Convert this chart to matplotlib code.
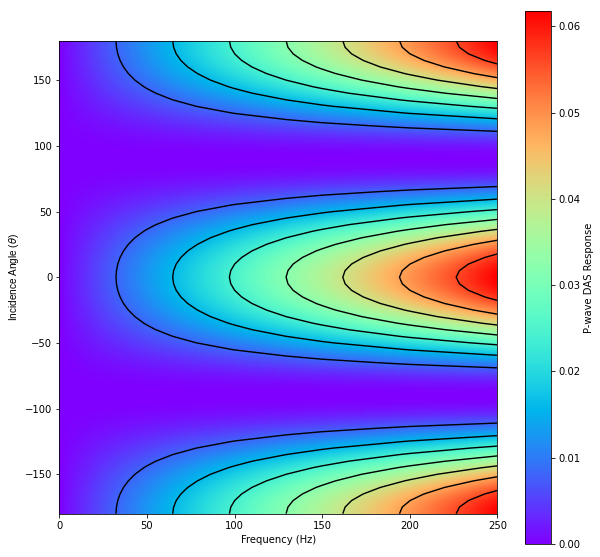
import numpy as np
import matplotlib
matplotlib.use("Agg")
import matplotlib.pyplot as plt

# incidence angle samples (deg) and normalised angular response
angle_deg = [-180, -175, -170, -165, -160, -155, -150, -145, -140, -135, -130, -125,
             -120, -115, -110, -105, -100, -95, -90, -85, -80, -75, -70, -65,
             -60, -55, -50, -45, -40, -35, -30, -25, -20, -15, -10, -5,
             0, 5, 10, 15, 20, 25, 30, 35, 40, 45, 50, 55,
             60, 65, 70, 75, 80, 85, 90, 95, 100, 105, 110, 115,
             120, 125, 130, 135, 140, 145, 150, 155, 160, 165, 170, 175, 180]
angle_gain = [1.000, 0.992, 0.970, 0.933, 0.883, 0.821, 0.750, 0.671, 0.587, 0.500, 0.413, 0.329,
              0.250, 0.179, 0.117, 0.067, 0.030, 0.008, 0.000, 0.008, 0.030, 0.067, 0.117, 0.179,
              0.250, 0.329, 0.413, 0.500, 0.587, 0.671, 0.750, 0.821, 0.883, 0.933, 0.970, 0.992,
              1.000, 0.992, 0.970, 0.933, 0.883, 0.821, 0.750, 0.671, 0.587, 0.500, 0.413, 0.329,
              0.250, 0.179, 0.117, 0.067, 0.030, 0.008, 0.000, 0.008, 0.030, 0.067, 0.117, 0.179,
              0.250, 0.329, 0.413, 0.500, 0.587, 0.671, 0.750, 0.821, 0.883, 0.933, 0.970, 0.992, 1.000]

# frequency samples (Hz) and response at normal incidence
freq_hz = [0, 50, 100, 150, 200, 250]
peak_response = [0.0, 0.01236, 0.02472, 0.03708, 0.04944, 0.0618]

contour_levels = [0.008, 0.016, 0.024, 0.032, 0.040, 0.048, 0.056]

plt.rcParams["font.size"] = 10

ang = np.array(angle_deg, dtype=float)
frq = np.array(freq_hz, dtype=float)
resp = np.outer(np.array(angle_gain), np.array(peak_response))

fig = plt.figure(figsize=(600 / 72, 557 / 72), dpi=72)
ax = fig.add_axes([59.3 / 600, 1 - 513.7 / 557, 438 / 600, 473 / 557])
cax = fig.add_axes([524.7 / 600, 1 - 544 / 557, 26.6 / 600, 533.3 / 557])

df = frq[1] - frq[0]
da = ang[1] - ang[0]
im = ax.imshow(resp, origin="lower", cmap="rainbow", aspect="auto",
               interpolation="bilinear", vmin=0, vmax=resp.max(),
               extent=[frq[0] - df / 2, frq[-1] + df / 2, ang[0] - da / 2, ang[-1] + da / 2])
ax.contour(frq, ang, resp, levels=contour_levels, colors="k", linewidths=1.4)
ax.set_xlim(0, 250)
ax.set_ylim(-180, 180)
ax.set_xticks([0, 50, 100, 150, 200, 250])
ax.set_yticks([-150, -100, -50, 0, 50, 100, 150])
ax.set_xlabel("Frequency (Hz)")
ax.set_ylabel(r"Incidence Angle ($\theta$)", family="Liberation Sans")

cb = fig.colorbar(im, cax=cax)
cb.set_ticks([0.00, 0.01, 0.02, 0.03, 0.04, 0.05, 0.06])
cb.set_label("P-wave DAS Response")

fig.savefig("out.png", dpi=72)
